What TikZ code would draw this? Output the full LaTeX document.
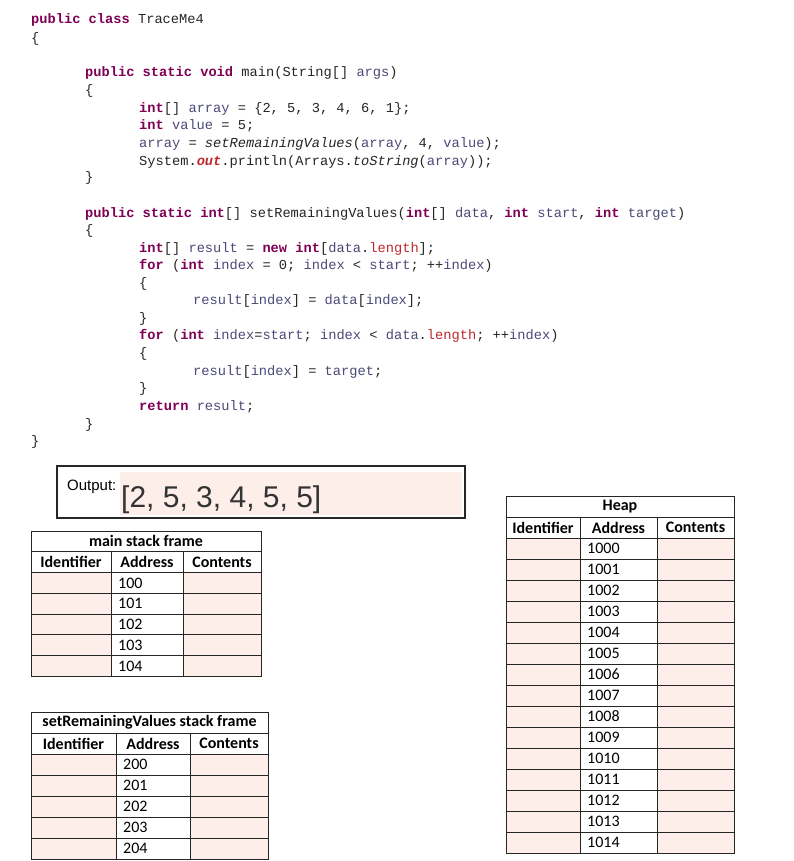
\documentclass[tikz,border=0pt]{standalone}
\usepackage{fontspec}
\setmainfont{Carlito}
\newfontfamily\codefont{Liberation Mono}
\newfontfamily\arialfont{Liberation Sans}
\definecolor{kw}{HTML}{7F0055}
\definecolor{vr}{HTML}{4B4A78}
\definecolor{fld}{HTML}{C0282D}
\definecolor{cellpink}{HTML}{FDEEEA}
\newcommand{\K}[1]{\textcolor{kw}{\bfseries #1}}
\newcommand{\V}[1]{\textcolor{vr}{#1}}
\newcommand{\F}[1]{\textcolor{fld}{#1}}
\newcommand{\memtable}[9]{%
  \fill[cellpink] (#1,#5+2*#6) rectangle (#2,#5+2*#6+#7*#6);
  \fill[cellpink] (#3,#5+2*#6) rectangle (#4,#5+2*#6+#7*#6);
  \draw[tline] (#1,#5) rectangle (#4,#5+2*#6+#7*#6);
  \node[hdr] at ({(#1+#4)/2},#5+0.5*#6) {#8};
  \node[hdr] at ({(#1+#2)/2},#5+1.5*#6) {Identifier};
  \node[hdr] at ({(#2+#3)/2},#5+1.5*#6) {Address};
  \node[hdr] at ({(#3+#4)/2},#5+1.5*#6) {Contents};
  \draw[tline] (#1,#5+#6) -- (#4,#5+#6);
  \draw[tline] (#2,#5+#6) -- (#2,#5+2*#6+#7*#6);
  \draw[tline] (#3,#5+#6) -- (#3,#5+2*#6+#7*#6);
  \foreach \i in {1,...,#7}{
    \draw[tline] (#1,#5+#6+\i*#6) -- (#4,#5+#6+\i*#6);
    \pgfmathtruncatemacro{\addr}{#9+\i-1}
    \node[cell] at (#2+7,#5+1.5*#6+\i*#6) {\addr};
  }}
\begin{document}
\begin{tikzpicture}[x=1pt,y=-1pt,
  code/.style={anchor=base west,inner sep=0pt,font=\codefont\fontsize{13.7}{15}\selectfont,text=black!85},
  tline/.style={draw=black!85,line width=1pt},
  hdr/.style={inner sep=0pt,font=\bfseries\fontsize{16}{18}\selectfont},
  cell/.style={anchor=west,inner sep=0pt,font=\fontsize{16}{18}\selectfont}]
\useasboundingbox (0,0) rectangle (793,861);
\fill[white] (0,0) rectangle (793,861);
\node[code] (l1) at (31,24) {\K{public class} TraceMe4};
\node[code] (l2) at (31,43) {\{};
\node[code] (l3) at (85,77) {\K{public static void} main(String[] \V{args})};
\node[code] (l4) at (85,95) {\{};
\node[code] (l5) at (139,113) {\K{int}[] \V{array} = \{2, 5, 3, 4, 6, 1\};};
\node[code] (l6) at (139,130) {\K{int} \V{value} = 5;};
\node[code] (l7) at (139,148) {\V{array} = \textit{setRemainingValues}(\V{array}, 4, \V{value});};
\node[code] (l8) at (139,165) {System.\F{\bfseries\itshape out}.println(Arrays.\textit{toString}(\V{array}));};
\node[code] (l9) at (85,182) {\}};
\node[code] (l10) at (85,217) {\K{public static int}[] setRemainingValues(\K{int}[] \V{data}, \K{int} \V{start}, \K{int} \V{target})};
\node[code] (l11) at (85,234) {\{};
\node[code] (l12) at (139,252) {\K{int}[] \V{result} = \K{new int}[\V{data}.\F{length}];};
\node[code] (l13) at (139,269) {\K{for} (\K{int} \V{index} = 0; \V{index} < \V{start}; ++\V{index})};
\node[code] (l14) at (139,287) {\{};
\node[code] (l15) at (193,304) {\V{result}[\V{index}] = \V{data}[\V{index}];};
\node[code] (l16) at (139,322) {\}};
\node[code] (l17) at (139,339) {\K{for} (\K{int} \V{index}=\V{start}; \V{index} < \V{data}.\F{length}; ++\V{index})};
\node[code] (l18) at (139,357) {\{};
\node[code] (l19) at (193,375) {\V{result}[\V{index}] = \V{target};};
\node[code] (l20) at (139,392) {\}};
\node[code] (l21) at (139,410) {\K{return} \V{result};};
\node[code] (l22) at (85,428) {\}};
\node[code] (l23) at (31,445) {\}};
\fill[cellpink] (120,472) rectangle (462,515);
\draw[line width=1.3pt,draw=black!85] (57,466) rectangle (465,518);
\node[anchor=base west,inner sep=0pt,font=\arialfont\fontsize{15}{17}\selectfont] (outlbl) at (67,490) {Output:};
\node[anchor=base west,inner sep=0pt,font=\arialfont\fontsize{30}{34}\selectfont,text=black!80] (outval) at (121,507) {[2, 5, 3, 4, 5, 5]};
\memtable{31}{111}{183}{261}{531}{20.75}{5}{main stack frame}{100}
\memtable{31}{116}{190}{268}{712}{21}{5}{setRemainingValues stack frame}{200}
\memtable{506}{580}{657}{734}{496}{21}{15}{Heap}{1000}
\end{tikzpicture}
\end{document}
